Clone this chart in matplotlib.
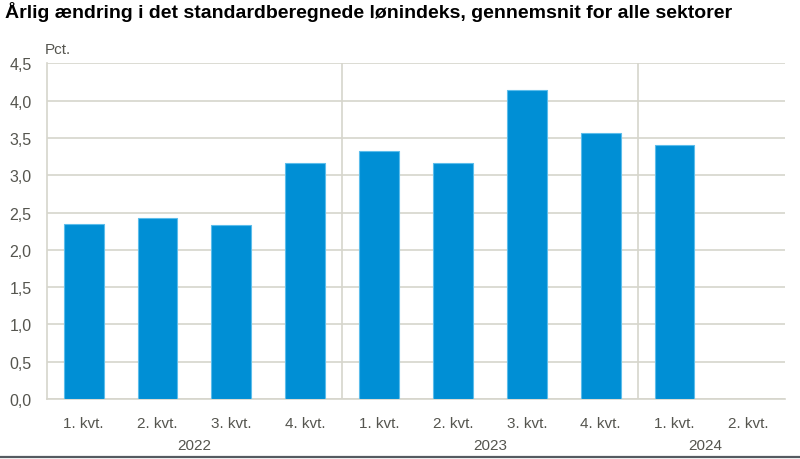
import numpy as np
import matplotlib
matplotlib.use("Agg")
import matplotlib.pyplot as plt
from matplotlib.lines import Line2D

plt.rcParams['font.family'] = ['Liberation Sans', 'DejaVu Sans']

title = "Årlig ændring i det standardberegnede lønindeks, gennemsnit for alle sektorer"
unit = "Pct."
quarters = ["1. kvt.", "2. kvt.", "3. kvt.", "4. kvt.",
            "1. kvt.", "2. kvt.", "3. kvt.", "4. kvt.",
            "1. kvt.", "2. kvt."]
years = ["2022", "2023", "2024"]
year_counts = [4, 4, 2]
values = [2.34, 2.42, 2.33, 3.16, 3.32, 3.16, 4.14, 3.57, 3.40, np.nan]
yticks = [0.0, 0.5, 1.0, 1.5, 2.0, 2.5, 3.0, 3.5, 4.0, 4.5]

bar_color = "#008FD5"
edge_color = "#5CBDEB"
grid_color = "#D6D5CC"
text_color = "#55554F"

fig = plt.figure(figsize=(8, 4.6), dpi=100)
ax = fig.add_axes([0.0584, 0.1304, 0.9232, 0.7298])

x = np.arange(len(quarters))
ax.bar(x, values, width=0.54, color=bar_color, edgecolor=edge_color,
       linewidth=0.8, zorder=3)

ax.set_xlim(-0.5, len(quarters) - 0.5)
ax.set_ylim(0, 4.5)
ax.set_yticks(yticks)
ax.set_yticklabels([f"{v:.1f}".replace(".", ",") for v in yticks])
ax.yaxis.grid(True, color=grid_color, linewidth=1.2, zorder=0)
ax.set_axisbelow(True)

# group separators
bounds = np.cumsum(year_counts)[:-1] - 0.5
for b in bounds:
    ax.axvline(b, color=grid_color, linewidth=1.2, zorder=1)

for s in ["top", "right"]:
    ax.spines[s].set_visible(False)
ax.spines["left"].set_color(grid_color)
ax.spines["left"].set_linewidth(1.2)
ax.spines["bottom"].set_color(grid_color)
ax.spines["bottom"].set_linewidth(1.2)

ax.tick_params(axis="y", length=0, pad=11, labelsize=11.5, labelcolor=text_color)
ax.set_xticks(x)
ax.set_xticklabels(quarters)
ax.tick_params(axis="x", length=0, pad=12.5, labelsize=11, labelcolor=text_color)

# year labels
start = 0
for yr, n in zip(years, year_counts):
    center = start + (n - 1) / 2
    if n == 2:
        center -= 0.09
    ax.text(center, -0.138, yr, transform=ax.get_xaxis_transform(),
            ha="center", va="center", fontsize=11, color=text_color)
    start += n

ax.text(45 / 800, 1 - 50 / 460, unit, transform=fig.transFigure,
        ha="left", va="center", fontsize=11, color=text_color)

fig.text(5 / 800, 1 - 12 / 460, title, ha="left", va="center",
         fontsize=14, fontweight="bold", color="#000000")

fig.add_artist(Line2D([0, 1], [2.5 / 460, 2.5 / 460], transform=fig.transFigure,
                      color="#555B61", linewidth=1.6))

fig.savefig("out.png", dpi=100)
